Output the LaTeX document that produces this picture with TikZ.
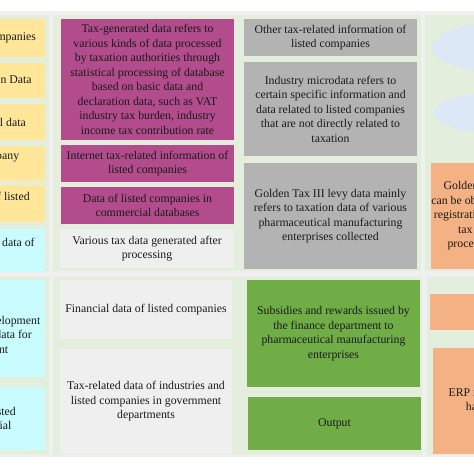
\documentclass[tikz,border=0pt]{standalone}
\usepackage{fontspec}
\setmainfont{Liberation Serif}
\usetikzlibrary{shapes.geometric}
\definecolor{bggray}{HTML}{F0F0F0}
\definecolor{panelg}{HTML}{E4EEDC}
\definecolor{yel}{HTML}{FFE699}
\definecolor{cya}{HTML}{C8FCFF}
\definecolor{purp}{HTML}{B24C8C}
\definecolor{gbox}{HTML}{B3B3B3}
\definecolor{lgbox}{HTML}{EFEFEF}
\definecolor{grn}{HTML}{70AD47}
\definecolor{ora}{HTML}{F4B183}
\definecolor{lblue}{HTML}{DDE8F7}
\definecolor{txt}{HTML}{1A1A1A}
\begin{document}
\begin{tikzpicture}[x=1pt,y=-1pt,
  box/.style={draw=none, inner sep=0pt, align=center, text=txt,
    font=\fontsize{11.8}{14.5}\selectfont},
  panel/.style={fill=panelg}]
\useasboundingbox (0,0) rectangle (474,474);
\fill[white] (0,0) rectangle (474,474);
\fill[bggray] (0,11) rectangle (474,457);
% panels
\fill[panel] (0,15) rectangle (49,271);
\fill[panel] (53,15) rectangle (421,271);
\fill[panel] (425,15) rectangle (474,271);
\fill[panel] (0,277) rectangle (49,455);
\fill[panel] (53,277) rectangle (422,455);
\fill[panel] (427,277) rectangle (474,455);
% left column (cut off)
\node[box, fill=yel, minimum width=130pt, minimum height=38pt] (y1) at (-20,38) {Base data of companies};
\node[box, fill=yel, minimum width=130pt, minimum height=35pt] (y2) at (-20,80.5) {Tax Registration Data};
\node[box, fill=yel, minimum width=130pt, minimum height=36pt] (y3) at (-20,122) {Main financial data};
\node[box, fill=yel, minimum width=130pt, minimum height=35pt] (y4) at (-20,163) {Listed Company\\data};
\node[box, fill=yel, minimum width=130pt, minimum height=37pt] (y5) at (-20,203.5) {Invoice data of listed\\firms};
\node[box, fill=cya, minimum width=130pt, minimum height=43pt] (c1) at (-20,250) {Basic statistical data of\\firms};
\node[box, fill=cya, minimum width=130pt, minimum height=97pt] (c2) at (-20,328.5) {Policy\\All industry development\\planning, and data for\\government};
\node[box, fill=cya, minimum width=130pt, minimum height=63pt] (c3) at (-20,418.5) {Data of a listed\\non-financial};
% purple column
\node[box, fill=purp, minimum width=173pt, minimum height=121pt] (p1) at (147.5,79.5) {Tax-generated data refers to\\various kinds of data processed\\by taxation authorities through\\statistical processing of database\\based on basic data and\\declaration data, such as VAT\\industry tax burden, industry\\income tax contribution rate};
\node[box, fill=purp, minimum width=173pt, minimum height=37pt] (p2) at (147.5,163.5) {Internet tax-related information of\\listed companies};
\node[box, fill=purp, minimum width=173pt, minimum height=37pt] (p3) at (147.5,205.5) {Data of listed companies in\\commercial databases};
\node[box, fill=lgbox, minimum width=174pt, minimum height=39pt] (l0) at (147,248.5) {Various tax data generated after\\processing};
% gray column
\node[box, fill=gbox, minimum width=173pt, minimum height=37pt] (g1) at (330.5,37.5) {Other tax-related information of\\listed companies};
\node[box, fill=gbox, minimum width=173pt, minimum height=94pt] (g2) at (330.5,109) {Industry microdata refers to\\certain specific information and\\data related to listed companies\\that are not directly related to\\taxation};
\node[box, fill=gbox, minimum width=173pt, minimum height=106pt] (g3) at (330.5,216) {Golden Tax III levy data mainly\\refers to taxation data of various\\pharmaceutical manufacturing\\enterprises collected};
% right upper
\node[ellipse, fill=lblue, minimum width=136pt, minimum height=50pt, inner sep=0pt] (e1) at (500,47.5) {};
\node[ellipse, fill=lblue, minimum width=132pt, minimum height=42pt, inner sep=0pt] (e2) at (500,113) {};
\node[box, fill=ora, minimum width=116pt, minimum height=106pt] (o1) at (490,216) {Golden Tax III data\\can be obtained from the\\registration, declaration\\tax collection\\processing phases};
% lower middle
\node[box, fill=lgbox, minimum width=172pt, minimum height=59pt] (l1) at (146,309.5) {Financial data of listed companies};
\node[box, fill=lgbox, minimum width=172pt, minimum height=105pt] (l2) at (146,401.5) {Tax-related data of industries and\\listed companies in government\\departments};
\node[box, fill=grn, minimum width=173pt, minimum height=107pt] (n1) at (333.5,333.5) {Subsidies and rewards issued by\\the finance department to\\pharmaceutical manufacturing\\enterprises};
\node[box, fill=grn, minimum width=173pt, minimum height=53pt] (n2) at (334.5,423.5) {Output};
% right lower
\node[box, fill=ora, minimum width=116pt, minimum height=36pt] (o2) at (488,312) {};
\node[box, fill=ora, minimum width=116pt, minimum height=106pt] (o3) at (491,401) {ERP management\\has helped};
\end{tikzpicture}
\end{document}
